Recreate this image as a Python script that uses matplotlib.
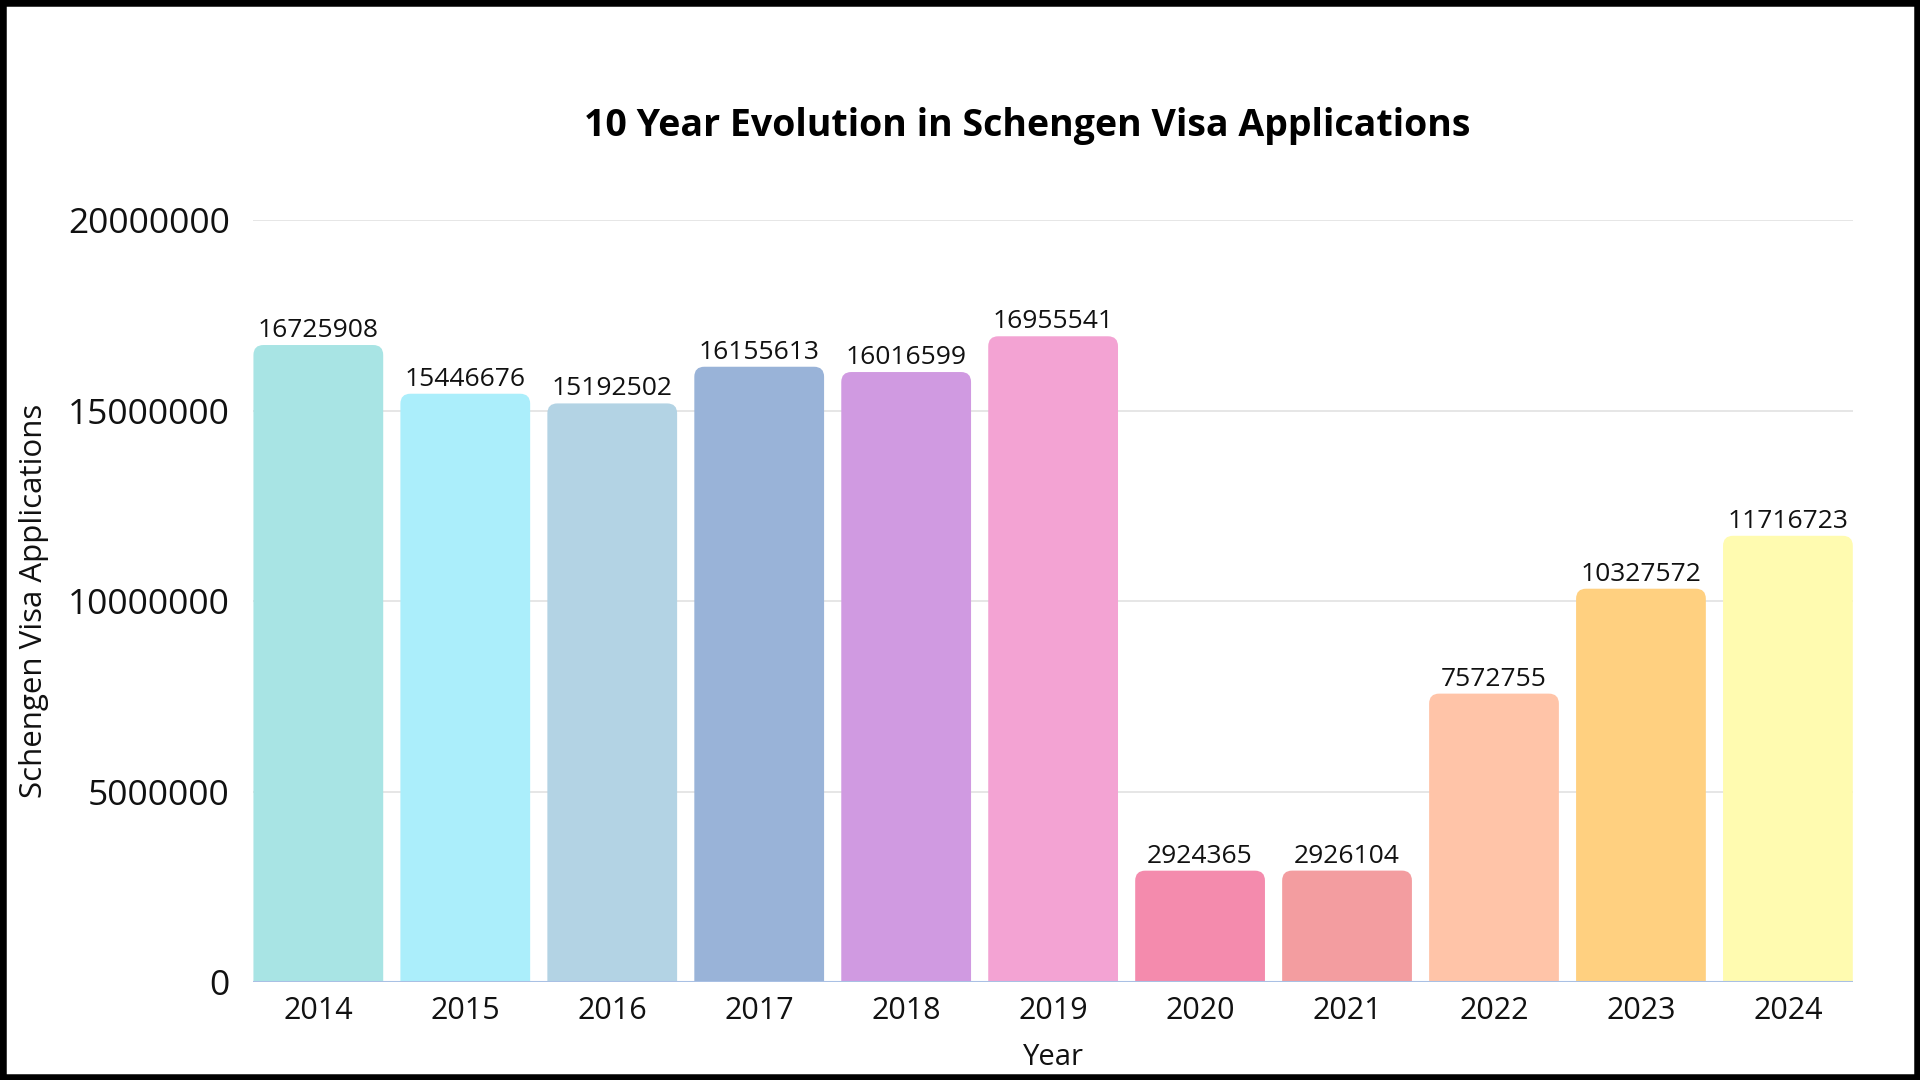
import matplotlib.pyplot as plt
from matplotlib.patches import FancyBboxPatch, Rectangle

plt.rcParams['font.family'] = ['Open Sans', 'DejaVu Sans']

years = ['2014', '2015', '2016', '2017', '2018', '2019', '2020', '2021', '2022', '2023', '2024']
applications = [16725908, 15446676, 15192502, 16155613, 16016599, 16955541,
                2924365, 2926104, 7572755, 10327572, 11716723]
colors = ['#A8E4E4', '#ABEEFB', '#B3D3E4', '#99B3D8', '#D09AE1', '#F3A3D3',
          '#F48BAD', '#F39DA0', '#FFC4A8', '#FFD080', '#FFFBB0']
y_ticks = [0, 5000000, 10000000, 15000000, 20000000]

fig = plt.figure(figsize=(19.2, 10.8), dpi=100)
ax = fig.add_axes([0.132, 0.0907, 0.833, 0.7053])

x = range(len(years))
bar_w = 0.883
bars = ax.bar(x, applications, width=bar_w, color=colors, zorder=2)

ax.set_xlim(-bar_w / 2, len(years) - 1 + bar_w / 2)
ax.set_ylim(0, 20000000)

# swap the square bars for ones with rounded tops
fig.canvas.draw()
px_x = ax.transData.transform((1, 0))[0] - ax.transData.transform((0, 0))[0]
px_y = ax.transData.transform((0, 1e6))[1] - ax.transData.transform((0, 0))[1]
aspect = (1e6 / px_y) / (1 / px_x)
r = 10 / px_x
for b in bars:
    b.set_visible(False)
    fb = FancyBboxPatch((b.get_x(), -r * aspect), b.get_width(), b.get_height() + r * aspect,
                        boxstyle=f'round,pad=0,rounding_size={r}',
                        mutation_aspect=aspect, facecolor=b.get_facecolor(),
                        edgecolor='none', zorder=2)
    ax.add_patch(fb)
    ax.annotate(str(int(b.get_height())), (b.get_x() + b.get_width() / 2, b.get_height()),
                xytext=(0, 1.5), textcoords='offset points', ha='center', va='bottom',
                fontsize=19, color='#111111')

ax.set_xticks(list(x))
ax.set_xticklabels(years)
ax.set_yticks(y_ticks)
ax.set_yticklabels([str(v) for v in y_ticks])
ax.tick_params(axis='x', length=0, pad=10, labelsize=22, colors='#111111')
ax.tick_params(axis='y', length=0, pad=17, labelsize=25.5, colors='#111111')
ax.grid(axis='y', color='#E2E2E2', linewidth=1.2, zorder=0)
for s in ax.spines.values():
    s.set_visible(False)
ax.axhline(0, color='#A9C0E4', linewidth=1.5, zorder=3)

ax.set_xlabel('Year', fontsize=21, labelpad=12, color='#111111')
ax.set_ylabel('Schengen Visa Applications', fontsize=22.5, labelpad=14, color='#111111')

fig.text(0.535, 0.883, '10 Year Evolution in Schengen Visa Applications',
         ha='center', va='center', fontsize=27, fontweight='bold', color='#000000')

fig.patches.append(Rectangle((0, 0), 1, 1, transform=fig.transFigure, fill=False,
                             edgecolor='black', linewidth=9))

fig.savefig('out.png', dpi=100)
